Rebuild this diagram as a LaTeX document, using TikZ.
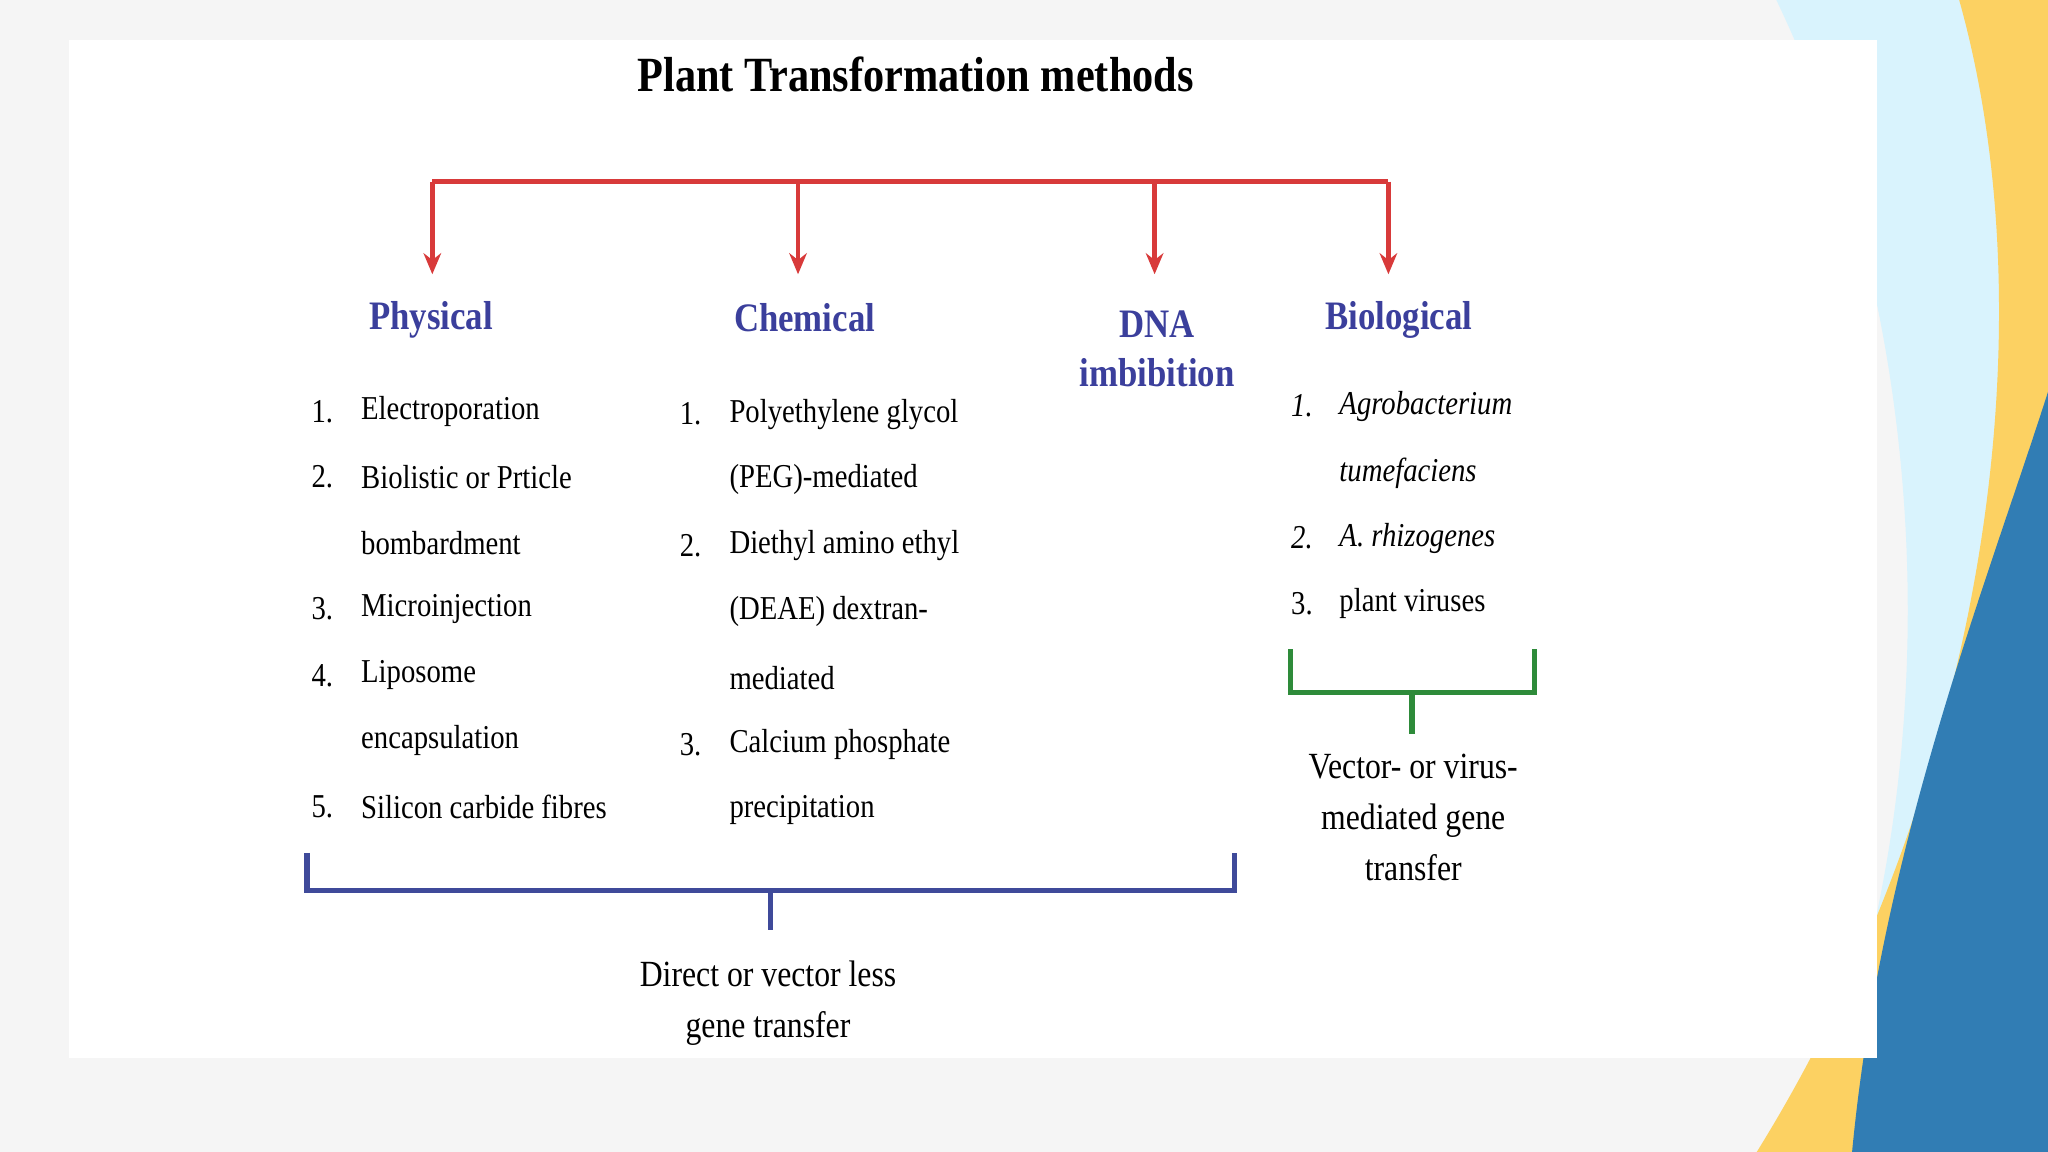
\documentclass[tikz,border=0pt]{standalone}
\usepackage{fontspec}
\setmainfont[FakeStretch=0.86]{Liberation Serif}
\usetikzlibrary{positioning,arrows.meta}
\definecolor{headblue}{HTML}{3B3F9C}
\definecolor{arrred}{HTML}{D83A3A}
\definecolor{braceblue}{HTML}{3F4A9A}
\definecolor{bracegreen}{HTML}{2E8B3A}
\tikzset{
  head/.style={font=\bfseries\fontsize{11.5}{14}\selectfont, text=headblue, align=center},
  item/.style={font=\fontsize{9.5}{12}\selectfont, anchor=west, inner sep=0pt},
  num/.style={font=\fontsize{9.5}{12}\selectfont, anchor=west, inner sep=0pt},
  note/.style={font=\fontsize{10.5}{14.5}\selectfont, align=center},
  redarr/.style={draw=arrred, line width=1.3pt, -{Stealth[length=6pt,width=5pt]}},
}
\begin{document}
\begin{tikzpicture}[x=0.01306cm, y=-0.01306cm]
  \useasboundingbox (0,0) rectangle (1568,882);
  % background and side decoration
  \fill[gray!8] (0,0) rectangle (1568,882);
  \fill[cyan!15] (1360,0) -- (1568,0) -- (1568,882) -- (1380,882) .. controls (1500,600) and (1480,250) .. cycle;
  \fill[yellow!45!orange!60] (1500,0) -- (1568,0) -- (1568,882) -- (1345,882) .. controls (1520,600) and (1570,250) .. cycle;
  \fill[cyan!70!blue!80!black] (1568,300) -- (1568,882) -- (1418,882) .. controls (1440,650) and (1520,450) .. cycle;
  \fill[white] (53,31) rectangle (1437,810);
  % title
  \node[font=\bfseries\fontsize{14}{18}\selectfont] (title) at (701,57) {Plant Transformation methods};
  % headings
  \node[head] (phys) at (330,245) {Physical};
  \node[head] (chem) at (616,243) {Chemical};
  \node[head] (dna) at (886,267) {DNA\\imbibition};
  \node[head] (bio) at (1071,245) {Biological};
  % red tree
  \coordinate (t1) at (331,139);
  \coordinate (t2) at (611,139);
  \coordinate (t3) at (884,139);
  \coordinate (t4) at (1063,139);
  \coordinate (a1) at (331,210);
  \coordinate (a2) at (611,210);
  \coordinate (a3) at (884,210);
  \coordinate (a4) at (1063,210);
  \draw[arrred, line width=1.3pt] (t1) -- (t4);
  \foreach \i in {1,...,4}
    \draw[redarr] (t\i) -- (a\i);
  % physical list
  \foreach \n/\y in {1./315, 2./365, 3./466, 4./517, 5./618}
    \node[num] at (238,\y) {\n};
  \foreach \t/\y in {Electroporation/315, Biolistic or Prticle/365, bombardment/416,
      Microinjection/466, Liposome/517, encapsulation/567, Silicon carbide fibres/618}
    \node[item] at (276,\y) {\t};
  % chemical list
  \foreach \n/\y in {1./317, 2./418, 3./570}
    \node[num] at (520,\y) {\n};
  \foreach \t/\y in {Polyethylene glycol/317, (PEG)-mediated/367, Diethyl amino ethyl/418,
      (DEAE) dextran-/468, mediated/519, Calcium phosphate/570, precipitation/620}
    \node[item] at (558,\y) {\t};
  % biological list
  \node[num] at (988,311) {\itshape 1.};
  \node[num] at (988,412) {\itshape 2.};
  \node[num] at (988,462) {3.};
  \node[item] at (1025,311) {\itshape Agrobacterium};
  \node[item] at (1025,362) {\itshape tumefaciens};
  \node[item] at (1025,412) {\itshape A. rhizogenes};
  \node[item] at (1025,462) {plant viruses};
  % braces
  \coordinate (b1) at (235,653);
  \coordinate (b2) at (235,682);
  \coordinate (b3) at (945,682);
  \coordinate (b4) at (945,653);
  \coordinate (bm) at (590,682);
  \coordinate (bt) at (590,712);
  \node[note] (direct) at (588,768) {Direct or vector less\\gene transfer};
  \draw[braceblue, line width=1.5pt] (b1) -- (b2) -- (b3) -- (b4);
  \draw[braceblue, line width=1.5pt] (bm) -- (bt);
  \coordinate (g1) at (988,497);
  \coordinate (g2) at (988,530);
  \coordinate (g3) at (1175,530);
  \coordinate (g4) at (1175,497);
  \coordinate (gm) at (1081,530);
  \coordinate (gt) at (1081,562);
  \node[note] (vector) at (1082,626) {Vector- or virus-\\mediated gene\\transfer};
  \draw[bracegreen, line width=1.5pt] (g1) -- (g2) -- (g3) -- (g4);
  \draw[bracegreen, line width=1.5pt] (gm) -- (gt);
\end{tikzpicture}
\end{document}
